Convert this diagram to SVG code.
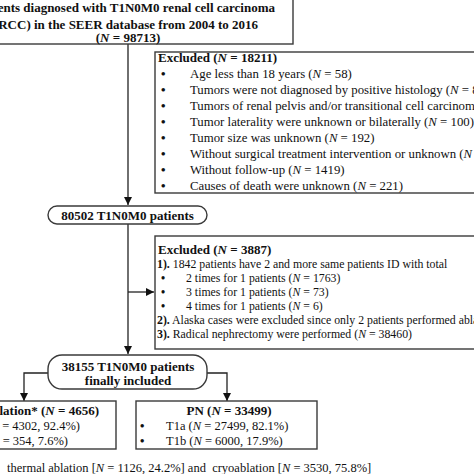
<svg xmlns="http://www.w3.org/2000/svg" width="474" height="474" viewBox="0 0 474 474">
<defs>
<style>
.box{fill:#fff;stroke:#3a3a3a;stroke-width:1.4}
.ln{fill:none;stroke:#222;stroke-width:1.3}
text{font-family:"Liberation Serif","Times New Roman",serif;fill:#111}
.b{font-weight:bold;font-size:13px}
.t1{font-size:12.8px}
.t2{font-size:11.8px}
.t3{font-size:12.5px}
.i{font-style:italic}
.bu{font-weight:bold}
</style>
<marker id="ah" viewBox="0 0 10 10" refX="10" refY="5" markerWidth="8" markerHeight="8" markerUnits="userSpaceOnUse" orient="auto">
<path d="M0,0 L10,5 L0,10 z" fill="#111"/>
</marker>
</defs>
<rect width="474" height="474" fill="#fff"/>

<g id="connectors">
<path class="ln" d="M128,44 V205" marker-end="url(#ah)"/>
<path class="ln" d="M128,224 V354" marker-end="url(#ah)"/>
<path class="ln" d="M128,292 H154" marker-end="url(#ah)"/>
<path class="ln" d="M48,373 H24 V401" marker-end="url(#ah)"/>
<path class="ln" d="M207,373 H227 V401" marker-end="url(#ah)"/>
</g>

<g id="source">
<rect class="box" x="-37" y="-10" width="330" height="54"/>
<text class="b" x="275" y="11.5" text-anchor="end">ents diagnosed with T1N0M0 renal cell carcinoma</text>
<text class="b" x="258" y="28.5" text-anchor="end">(RCC) in the SEER database from 2004 to 2016</text>
<text class="b" x="128" y="42" text-anchor="middle">(<tspan class="i">N</tspan> = 98713)</text>
</g>

<g id="excluded1">
<rect class="box" x="155" y="52" width="330" height="141"/>
<text class="b" x="158" y="61.5">Excluded (<tspan class="i">N</tspan> = 18211)</text>
<g class="t1">
<text class="bu" x="161" y="77.5">•</text><text x="190" y="77.5">Age less than 18 years (<tspan class="i">N</tspan> = 58)</text>
<text class="bu" x="161" y="93.5">•</text><text x="190" y="93.5">Tumors were not diagnosed by positive histology (<tspan class="i">N</tspan> = 8</text>
<text class="bu" x="161" y="109.5">•</text><text x="190" y="109.5">Tumors of renal pelvis and/or transitional cell carcinoma</text>
<text class="bu" x="161" y="125.5">•</text><text x="190" y="125.5">Tumor laterality were unknown or bilaterally (<tspan class="i">N</tspan> = 100)</text>
<text class="bu" x="161" y="141.5">•</text><text x="190" y="141.5">Tumor size was unknown (<tspan class="i">N</tspan> = 192)</text>
<text class="bu" x="161" y="157.5">•</text><text x="190" y="157.5">Without surgical treatment intervention or unknown (<tspan class="i">N</tspan> =</text>
<text class="bu" x="161" y="173.5">•</text><text x="190" y="173.5">Without follow-up (<tspan class="i">N</tspan> = 1419)</text>
<text class="bu" x="161" y="189.5">•</text><text x="190" y="189.5">Causes of death were unknown (<tspan class="i">N</tspan> = 221)</text>
</g>
</g>

<g id="n80502">
<rect class="box" x="48" y="206" width="159" height="18" rx="9"/>
<text class="b" x="127.5" y="219.5" text-anchor="middle">80502 T1N0M0 patients</text>
</g>

<g id="excluded2">
<rect class="box" x="155" y="236" width="330" height="113"/>
<text class="b" x="158" y="254">Excluded (<tspan class="i">N</tspan> = 3887)</text>
<g class="t2">
<text x="157" y="268"><tspan font-weight="bold">1).</tspan> 1842 patients have 2 and more same patients ID with total</text>
<text class="bu" x="161" y="282">•</text><text x="186" y="282">2 times for 1 patients (<tspan class="i">N</tspan> = 1763)</text>
<text class="bu" x="161" y="296">•</text><text x="186" y="296">3 times for 1 patients (<tspan class="i">N</tspan> = 73)</text>
<text class="bu" x="161" y="310">•</text><text x="186" y="310">4 times for 1 patients (<tspan class="i">N</tspan> = 6)</text>
<text x="157" y="324"><tspan font-weight="bold">2).</tspan> Alaska cases were excluded since only 2 patients performed ablat</text>
<text x="157" y="338"><tspan font-weight="bold">3).</tspan> Radical nephrectomy were performed (<tspan class="i">N</tspan> = 38460)</text>
</g>
</g>

<g id="n38155">
<rect class="box" x="48" y="355" width="159" height="34" rx="14"/>
<text class="b" x="128" y="370.5" text-anchor="middle">38155 T1N0M0 patients</text>
<text class="b" x="128" y="385" text-anchor="middle">finally included</text>
</g>

<g id="ablation">
<rect class="box" x="-40" y="401" width="156" height="48"/>
<text class="b" x="99" y="414.5" text-anchor="end">lation* (<tspan class="i">N</tspan> = 4656)</text>
<text class="t3" x="80" y="429.5" text-anchor="end">= 4302, 92.4%)</text>
<text class="t3" x="68" y="444.5" text-anchor="end">= 354, 7.6%)</text>
</g>

<g id="pn">
<rect class="box" x="136" y="401" width="181" height="48"/>
<text class="b" x="229" y="414.5" text-anchor="middle">PN (<tspan class="i">N</tspan> = 33499)</text>
<text class="t3 bu" x="140" y="429.5">•</text><text class="t3" x="166" y="429.5">T1a (<tspan class="i">N</tspan> = 27499, 82.1%)</text>
<text class="t3 bu" x="140" y="444.5">•</text><text class="t3" x="166" y="444.5">T1b (<tspan class="i">N</tspan> = 6000, 17.9%)</text>
</g>

<g id="footnote">
<text class="t3" x="7" y="472" xml:space="preserve">thermal ablation [<tspan class="i">N</tspan> = 1126, 24.2%] and  cryoablation [<tspan class="i">N</tspan> = 3530, 75.8%]</text>
</g>
</svg>
